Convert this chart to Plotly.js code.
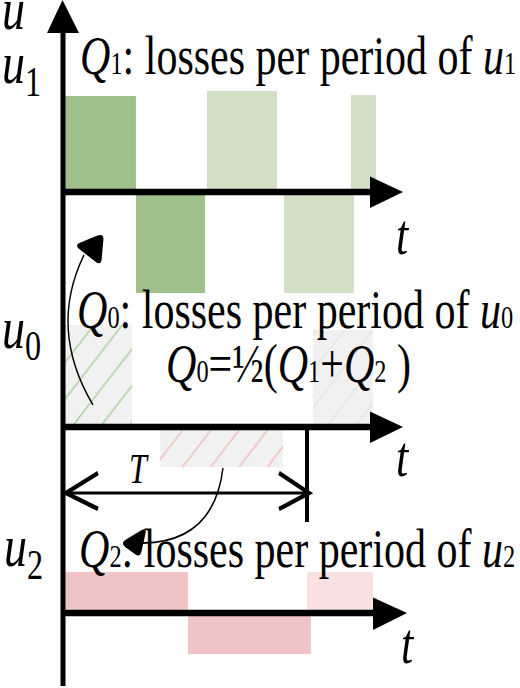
<!DOCTYPE html>
<html>
<head>
<meta charset="utf-8">
<script src="https://cdn.plot.ly/plotly-3.0.1.min.js"></script>
<style>
  html { overflow: hidden; }
  body { margin: 0; padding: 0; height: 688px; background: #fff; }
  /* the reference is stretched vertically, so draw at 530px and stretch */
  #wrap { width: 520px; height: 530px; transform: scaleY(1.2981); transform-origin: 0 0; }
</style>
</head>
<body>
<div id="wrap"><div id="plot"></div></div>
<script>
// time in periods T of u0, amplitude in common units
var u1Start  = [0, 0.299, 0.590, 0.906, 1.180];
var u1End    = [0.299, 0.582, 0.877, 1.193, 1.283];
var u1Amp    = [0.96, -1.01, 1.01, -1.01, 0.97];
var u1Period = [1, 1, 2, 2, 2];

var u0Start  = [0, 0.398, 1.025];
var u0End    = [0.283, 0.902, 1.270];
var u0Amp    = [1.02, -0.40, 0.97];
var u0From   = ['u1', 'u2', 'both'];

var u2Start  = [0, 0.512, 1.000];
var u2End    = [0.512, 1.016, 1.270];
var u2Amp    = [0.41, -0.41, 0.41];
var u2Period = [1, 1, 2];

var W = 520, H = 688;
function px(x) { return x / W; }
function py(y) { return 1 - y / H; }

function mids(s, e) { return s.map(function (v, i) { return (v + e[i]) / 2; }); }
function widths(s, e) { return s.map(function (v, i) { return e[i] - v; }); }

var green = ['#9fbf8b', '#d1e0c6'];
var pink = ['#f0c4c4', '#f9e1e1'];

var data = [];
data.push({
  type: 'bar', x: mids(u1Start, u1End), width: widths(u1Start, u1End), y: u1Amp,
  yaxis: 'y', marker: {color: u1Period.map(function (p) { return green[p - 1]; }), line: {width: 0}},
  hoverinfo: 'skip'
});
data.push({
  type: 'bar', x: mids(u2Start, u2End), width: widths(u2Start, u2End), y: u2Amp,
  yaxis: 'y3', marker: {color: u2Period.map(function (p) { return pink[p - 1]; }), line: {width: 0}},
  hoverinfo: 'skip'
});
var hatch = {u1: '#b0d0a0', u2: '#f5bebe', both: '#e4e4e4'};
u0Start.forEach(function (s, i) {
  data.push({
    type: 'bar', x: [(s + u0End[i]) / 2], width: [u0End[i] - s], y: [u0Amp[i]],
    yaxis: 'y2', hoverinfo: 'skip',
    marker: {color: '#f1f1f1', line: {width: 0},
      pattern: {shape: '/', fgcolor: hatch[u0From[i]], bgcolor: '#f1f1f1', size: 20, solidity: 0.07}}
  });
});

// y axis per panel: zero line pixel, 100px per unit, top/bottom pixels
function yax(zero, top, bot) {
  return {domain: [py(bot), py(top)], range: [(zero - bot) / 100, (zero - top) / 100],
    visible: false, fixedrange: true};
}

var blk = '#000';
function tri(pts, xref, yref) {
  return {type: 'path', xref: xref, yref: yref, fillcolor: blk, line: {width: 0},
    path: 'M' + pts.map(function (p) { return p[0] + ',' + p[1]; }).join('L') + 'Z'};
}
function roundTri(pts, r) {
  var d = '';
  for (var i = 0; i < 3; i++) {
    var a = pts[(i + 2) % 3], v = pts[i], b = pts[(i + 1) % 3];
    var la = Math.hypot(a[0] - v[0], a[1] - v[1]), lb = Math.hypot(b[0] - v[0], b[1] - v[1]);
    var p1 = [v[0] + (a[0] - v[0]) * r / la, v[1] + (a[1] - v[1]) * r / la];
    var p2 = [v[0] + (b[0] - v[0]) * r / lb, v[1] + (b[1] - v[1]) * r / lb];
    d += (i === 0 ? 'M' : 'L') + px(p1[0]) + ',' + py(p1[1]) +
      'Q' + px(v[0]) + ',' + py(v[1]) + ' ' + px(p2[0]) + ',' + py(p2[1]);
  }
  return {type: 'path', xref: 'paper', yref: 'paper', fillcolor: blk, line: {width: 0}, path: d + 'Z'};
}
function tx(p) { return (p - 63) / 244; }

var shapes = [
  // vertical u axis
  {type: 'line', xref: 'x', yref: 'paper', x0: 0, x1: 0, y0: py(686), y1: py(30), line: {color: blk, width: 5}},
  tri([[tx(47), py(33)], [tx(62.5), py(0)], [tx(79), py(33)]], 'x', 'paper'),
  // t axes
  {type: 'line', xref: 'x', yref: 'y', x0: 0, x1: tx(374), y0: 0, y1: 0, line: {color: blk, width: 5}},
  tri([[tx(370), 0.155], [tx(403), 0], [tx(370), -0.16]], 'x', 'y'),
  {type: 'line', xref: 'x', yref: 'y2', x0: 0, x1: tx(374), y0: 0, y1: 0, line: {color: blk, width: 5}},
  tri([[tx(370), 0.155], [tx(403), 0], [tx(370), -0.16]], 'x', 'y2'),
  {type: 'line', xref: 'x', yref: 'y3', x0: 0, x1: tx(376), y0: 0, y1: 0, line: {color: blk, width: 5}},
  tri([[tx(373), 0.155], [tx(407), 0], [tx(373), -0.17]], 'x', 'y3'),
  // period T marker
  {type: 'line', xref: 'x', yref: 'paper', x0: 1, x1: 1, y0: py(427), y1: py(522), line: {color: blk, width: 4}},
  {type: 'line', xref: 'x', yref: 'paper', x0: 0, x1: 1, y0: py(493), y1: py(493), line: {color: blk, width: 2.2}},
  {type: 'path', xref: 'x', yref: 'paper', line: {color: blk, width: 3.5},
    path: 'M' + tx(98) + ',' + py(473) + 'L' + tx(66) + ',' + py(493) + 'L' + tx(98) + ',' + py(509)},
  {type: 'path', xref: 'x', yref: 'paper', line: {color: blk, width: 3.5},
    path: 'M' + tx(279) + ',' + py(473) + 'L' + tx(309) + ',' + py(493) + 'L' + tx(279) + ',' + py(509)},
  // curved arrows
  {type: 'path', xref: 'paper', yref: 'paper', line: {color: blk, width: 1.4},
    path: 'M' + px(93) + ',' + py(405) + 'Q' + px(48) + ',' + py(329) + ' ' + px(84) + ',' + py(255)},
  roundTri([[74, 245], [104, 233], [101, 266]], 7),
  {type: 'path', xref: 'paper', yref: 'paper', line: {color: blk, width: 1.4},
    path: 'M' + px(223) + ',' + py(468) + 'Q' + px(214) + ',' + py(542) + ' ' + px(143) + ',' + py(543)},
  roundTri([[120, 543], [147, 527], [140, 558]], 7)
];

var F = 'Liberation Serif';
function note(text, x, y, size, anchor) {
  return {text: text, x: px(x), y: py(y), xref: 'paper', yref: 'paper', xanchor: anchor || 'left',
    yanchor: 'middle', showarrow: false, font: {family: F, size: size, color: blk}};
}
var sm = function (s) { return '<span style="font-size:58%">' + s + '</span>'; };

var annotations = [
  note('<i>u</i>', 0, 8, 46),
  note('<i>u</i><sub>1</sub>', 0, 67, 46),
  note('<i>u</i><sub>0</sub>', 0, 332, 46),
  note('<i>u</i><sub>2</sub>', 2, 550, 46),
  note('<i>Q</i>' + sm('1') + ': losses per period of <i>u</i>' + sm('1'), 78, 56, 42),
  note('<i>Q</i>' + sm('0') + ': losses per period of <i>u</i>' + sm('0'), 75, 310, 42),
  note('<i>Q</i>' + sm('0') + '=\u00bd(<i>Q</i>' + sm('1') + '+<i>Q</i>' + sm('2') + ' )', 288, 364, 42, 'center'),
  note('<i>Q</i>' + sm('2') + ': losses per period of <i>u</i>' + sm('2'), 77, 549, 42),
  note('<i>t</i>', 394, 235, 44),
  note('<i>t</i>', 394, 458, 44),
  note('<i>t</i>', 399, 645, 44),
  note('<i>T</i>', 127, 469, 32)
];

var layout = {
  width: 520, height: 530,
  margin: {l: 0, r: 0, t: 0, b: 0},
  paper_bgcolor: '#fff', plot_bgcolor: 'rgba(0,0,0,0)',
  showlegend: false, barmode: 'overlay',
  xaxis: {range: [tx(0), tx(520)], visible: false, fixedrange: true},
  yaxis: yax(192, 0, 300),
  yaxis2: yax(427, 300, 470),
  yaxis3: yax(613, 470, 688),
  shapes: shapes,
  annotations: annotations
};

Plotly.newPlot('plot', data, layout, {displayModeBar: false, staticPlot: true});
</script>
</body>
</html>
